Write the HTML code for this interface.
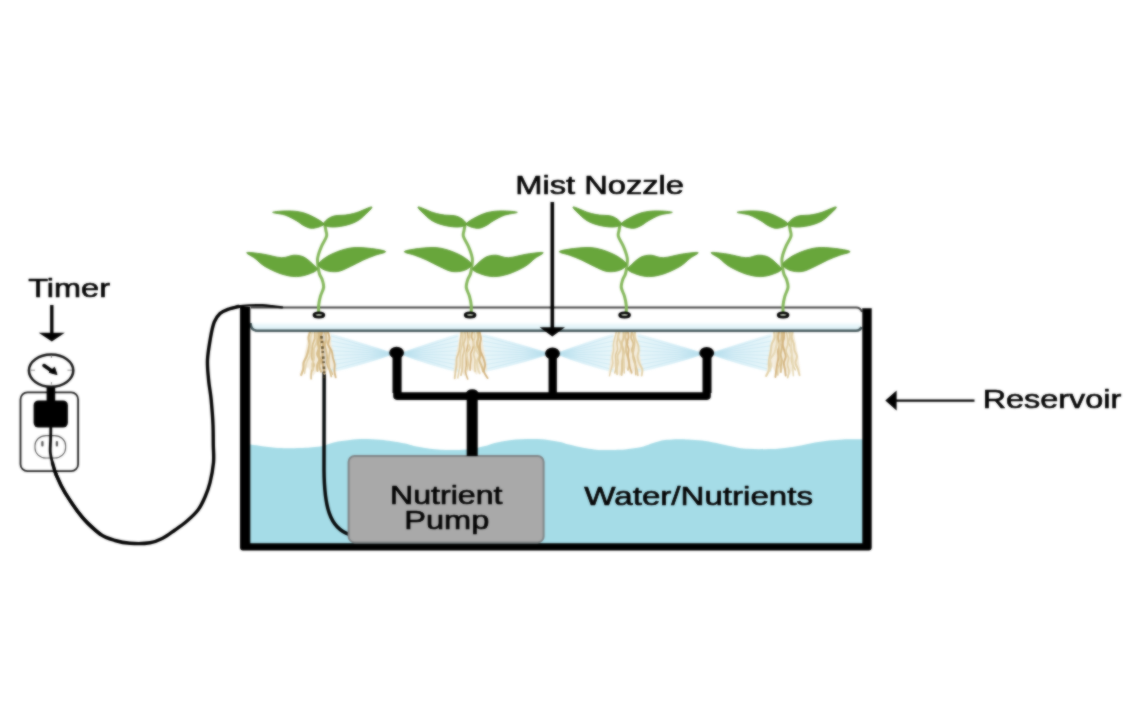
<!DOCTYPE html>
<html lang="en">
<head>
<meta charset="utf-8">
<title>Aeroponic System Diagram</title>
<style>
html,body{margin:0;padding:0;background:#fff;}
body{width:1140px;height:727px;overflow:hidden;position:relative;}
svg{display:block;position:absolute;left:0;top:0;}
text{font-family:"Liberation Sans",sans-serif;fill:#050505;stroke:#050505;stroke-width:0.65px;stroke-linejoin:round;}
</style>
</head>
<body>
<svg width="1140" height="727" viewBox="0 0 1140 727">
<rect x="0" y="0" width="1140" height="727" fill="#ffffff"/>
<defs>
<filter id="softA" x="0" y="0" width="1140" height="727" filterUnits="userSpaceOnUse" color-interpolation-filters="sRGB"><feGaussianBlur stdDeviation="1" result="b"/><feComposite in="SourceGraphic" in2="b" operator="arithmetic" k1="0" k2="0.3" k3="0.7" k4="0"/></filter>
<filter id="softT" x="0" y="0" width="1140" height="727" filterUnits="userSpaceOnUse" color-interpolation-filters="sRGB"><feGaussianBlur stdDeviation="1" result="b"/><feComposite in="SourceGraphic" in2="b" operator="arithmetic" k1="0" k2="0.35" k3="0.65" k4="0"/></filter>
</defs>
<g id="art" filter="url(#softA)">

<path d="M249.0,444.3 C251.2,444.6 257.7,445.7 262.0,446.3 C266.3,446.9 270.8,447.5 275.0,447.8 C279.2,448.1 282.8,448.2 287.0,448.3 C291.2,448.4 296.2,448.2 300.0,448.1 C303.8,448.0 306.7,447.8 310.0,447.5 C313.3,447.2 317.0,447.2 320.0,446.6 C323.0,446.1 325.0,445.0 328.0,444.2 C331.0,443.4 334.3,442.3 338.0,441.6 C341.7,440.9 345.7,440.3 350.0,439.9 C354.3,439.5 359.0,439.0 364.0,439.0 C369.0,439.0 375.3,439.4 380.0,439.8 C384.7,440.2 387.8,440.7 392.0,441.3 C396.2,441.9 401.3,442.8 405.0,443.6 C408.7,444.4 410.7,445.3 414.0,446.0 C417.3,446.7 421.5,447.4 425.0,448.0 C428.5,448.6 431.5,449.0 435.0,449.3 C438.5,449.6 442.5,449.8 446.0,449.9 C449.5,450.0 452.0,450.1 456.0,450.0 C460.0,449.9 465.3,449.8 470.0,449.2 C474.7,448.6 479.5,447.3 484.0,446.2 C488.5,445.1 492.8,443.4 497.0,442.4 C501.2,441.4 505.3,440.7 509.5,440.2 C513.7,439.7 517.8,439.5 522.0,439.3 C526.2,439.1 530.4,439.0 534.7,439.1 C539.0,439.2 543.8,439.5 548.0,440.0 C552.2,440.5 556.5,441.2 560.0,442.0 C563.5,442.8 565.2,443.6 569.0,444.6 C572.8,445.6 578.8,447.0 583.0,447.8 C587.2,448.6 590.5,449.0 594.0,449.4 C597.5,449.8 600.5,449.9 604.0,450.0 C607.5,450.1 611.5,450.1 615.0,450.0 C618.5,449.9 621.0,450.0 625.0,449.6 C629.0,449.2 635.3,448.3 639.0,447.6 C642.7,446.9 644.7,446.1 647.0,445.3 C649.3,444.5 650.8,443.7 653.0,443.0 C655.2,442.3 657.7,441.5 660.0,441.0 C662.3,440.5 664.0,440.1 667.0,439.8 C670.0,439.5 674.5,439.3 678.0,439.2 C681.5,439.1 684.0,439.2 688.0,439.4 C692.0,439.6 697.5,440.0 702.0,440.6 C706.5,441.2 711.3,442.1 715.0,442.8 C718.7,443.5 720.2,444.0 724.0,444.8 C727.8,445.6 734.0,447.0 738.0,447.7 C742.0,448.4 744.5,448.6 748.0,448.8 C751.5,449.1 755.3,449.2 759.0,449.2 C762.7,449.2 766.5,449.1 770.0,449.0 C773.5,448.9 776.7,448.7 780.0,448.4 C783.3,448.1 786.5,447.7 790.0,447.2 C793.5,446.7 796.8,446.2 801.0,445.4 C805.2,444.6 810.3,443.4 815.0,442.6 C819.7,441.8 824.3,440.9 829.0,440.4 C833.7,439.9 839.2,439.6 843.0,439.4 C846.8,439.2 848.7,439.2 852.0,439.2 C855.3,439.2 861.2,439.2 863.0,439.2 L863,544 L249,544 Z" fill="#a5dce7"/>
<defs><linearGradient id="mgr" x1="0" y1="0" x2="1" y2="0"><stop offset="0" stop-color="#bde3f0"/><stop offset="0.35" stop-color="#d9eff7"/><stop offset="1" stop-color="#e8f6fa"/></linearGradient><linearGradient id="mgl" x1="1" y1="0" x2="0" y2="0"><stop offset="0" stop-color="#bde3f0"/><stop offset="0.35" stop-color="#d9eff7"/><stop offset="1" stop-color="#e8f6fa"/></linearGradient></defs>
<path d="M390.7,352.3 Q363.8,343.2 331.0,333.6 L331.0,372.6 Q363.8,365.0 390.7,355.3 Z" fill="url(#mgl)"/><line x1="390.7" y1="353.8" x2="331.0" y2="336.0" stroke="#b9dfec" stroke-width="0.5"/><line x1="390.7" y1="353.8" x2="331.0" y2="340.9" stroke="#b9dfec" stroke-width="0.5"/><line x1="390.7" y1="353.8" x2="331.0" y2="345.7" stroke="#b9dfec" stroke-width="0.5"/><line x1="390.7" y1="353.8" x2="331.0" y2="350.6" stroke="#b9dfec" stroke-width="0.5"/><line x1="390.7" y1="353.8" x2="331.0" y2="355.4" stroke="#b9dfec" stroke-width="0.5"/><line x1="390.7" y1="353.8" x2="331.0" y2="360.3" stroke="#b9dfec" stroke-width="0.5"/><line x1="390.7" y1="353.8" x2="331.0" y2="365.1" stroke="#b9dfec" stroke-width="0.5"/><line x1="390.7" y1="353.8" x2="331.0" y2="370.0" stroke="#b9dfec" stroke-width="0.5"/>
<path d="M402.7,352.3 Q427.8,343.2 458.5,333.6 L458.5,372.6 Q427.8,365.0 402.7,355.3 Z" fill="url(#mgr)"/><line x1="402.7" y1="353.8" x2="458.5" y2="336.0" stroke="#b9dfec" stroke-width="0.5"/><line x1="402.7" y1="353.8" x2="458.5" y2="340.9" stroke="#b9dfec" stroke-width="0.5"/><line x1="402.7" y1="353.8" x2="458.5" y2="345.7" stroke="#b9dfec" stroke-width="0.5"/><line x1="402.7" y1="353.8" x2="458.5" y2="350.6" stroke="#b9dfec" stroke-width="0.5"/><line x1="402.7" y1="353.8" x2="458.5" y2="355.4" stroke="#b9dfec" stroke-width="0.5"/><line x1="402.7" y1="353.8" x2="458.5" y2="360.3" stroke="#b9dfec" stroke-width="0.5"/><line x1="402.7" y1="353.8" x2="458.5" y2="365.1" stroke="#b9dfec" stroke-width="0.5"/><line x1="402.7" y1="353.8" x2="458.5" y2="370.0" stroke="#b9dfec" stroke-width="0.5"/>
<path d="M546.5,352.3 Q517.7,343.2 482.5,333.6 L482.5,372.6 Q517.7,365.0 546.5,355.3 Z" fill="url(#mgl)"/><line x1="546.5" y1="353.8" x2="482.5" y2="336.0" stroke="#b9dfec" stroke-width="0.5"/><line x1="546.5" y1="353.8" x2="482.5" y2="340.9" stroke="#b9dfec" stroke-width="0.5"/><line x1="546.5" y1="353.8" x2="482.5" y2="345.7" stroke="#b9dfec" stroke-width="0.5"/><line x1="546.5" y1="353.8" x2="482.5" y2="350.6" stroke="#b9dfec" stroke-width="0.5"/><line x1="546.5" y1="353.8" x2="482.5" y2="355.4" stroke="#b9dfec" stroke-width="0.5"/><line x1="546.5" y1="353.8" x2="482.5" y2="360.3" stroke="#b9dfec" stroke-width="0.5"/><line x1="546.5" y1="353.8" x2="482.5" y2="365.1" stroke="#b9dfec" stroke-width="0.5"/><line x1="546.5" y1="353.8" x2="482.5" y2="370.0" stroke="#b9dfec" stroke-width="0.5"/>
<path d="M558.5,352.3 Q583.2,343.2 613.5,333.6 L613.5,372.6 Q583.2,365.0 558.5,355.3 Z" fill="url(#mgr)"/><line x1="558.5" y1="353.8" x2="613.5" y2="336.0" stroke="#b9dfec" stroke-width="0.5"/><line x1="558.5" y1="353.8" x2="613.5" y2="340.9" stroke="#b9dfec" stroke-width="0.5"/><line x1="558.5" y1="353.8" x2="613.5" y2="345.7" stroke="#b9dfec" stroke-width="0.5"/><line x1="558.5" y1="353.8" x2="613.5" y2="350.6" stroke="#b9dfec" stroke-width="0.5"/><line x1="558.5" y1="353.8" x2="613.5" y2="355.4" stroke="#b9dfec" stroke-width="0.5"/><line x1="558.5" y1="353.8" x2="613.5" y2="360.3" stroke="#b9dfec" stroke-width="0.5"/><line x1="558.5" y1="353.8" x2="613.5" y2="365.1" stroke="#b9dfec" stroke-width="0.5"/><line x1="558.5" y1="353.8" x2="613.5" y2="370.0" stroke="#b9dfec" stroke-width="0.5"/>
<path d="M700.7,352.3 Q672.3,343.2 637.5,333.6 L637.5,372.6 Q672.3,365.0 700.7,355.3 Z" fill="url(#mgl)"/><line x1="700.7" y1="353.8" x2="637.5" y2="336.0" stroke="#b9dfec" stroke-width="0.5"/><line x1="700.7" y1="353.8" x2="637.5" y2="340.9" stroke="#b9dfec" stroke-width="0.5"/><line x1="700.7" y1="353.8" x2="637.5" y2="345.7" stroke="#b9dfec" stroke-width="0.5"/><line x1="700.7" y1="353.8" x2="637.5" y2="350.6" stroke="#b9dfec" stroke-width="0.5"/><line x1="700.7" y1="353.8" x2="637.5" y2="355.4" stroke="#b9dfec" stroke-width="0.5"/><line x1="700.7" y1="353.8" x2="637.5" y2="360.3" stroke="#b9dfec" stroke-width="0.5"/><line x1="700.7" y1="353.8" x2="637.5" y2="365.1" stroke="#b9dfec" stroke-width="0.5"/><line x1="700.7" y1="353.8" x2="637.5" y2="370.0" stroke="#b9dfec" stroke-width="0.5"/>
<path d="M712.7,352.3 Q739.2,343.2 771.5,333.6 L771.5,372.6 Q739.2,365.0 712.7,355.3 Z" fill="url(#mgr)"/><line x1="712.7" y1="353.8" x2="771.5" y2="336.0" stroke="#b9dfec" stroke-width="0.5"/><line x1="712.7" y1="353.8" x2="771.5" y2="340.9" stroke="#b9dfec" stroke-width="0.5"/><line x1="712.7" y1="353.8" x2="771.5" y2="345.7" stroke="#b9dfec" stroke-width="0.5"/><line x1="712.7" y1="353.8" x2="771.5" y2="350.6" stroke="#b9dfec" stroke-width="0.5"/><line x1="712.7" y1="353.8" x2="771.5" y2="355.4" stroke="#b9dfec" stroke-width="0.5"/><line x1="712.7" y1="353.8" x2="771.5" y2="360.3" stroke="#b9dfec" stroke-width="0.5"/><line x1="712.7" y1="353.8" x2="771.5" y2="365.1" stroke="#b9dfec" stroke-width="0.5"/><line x1="712.7" y1="353.8" x2="771.5" y2="370.0" stroke="#b9dfec" stroke-width="0.5"/>
<path d="M324.3,333 C324.1,380 323.8,430 324,470 C324.3,505 329,528 349.5,534.5" fill="none" stroke="#05090a" stroke-width="3.5" stroke-linecap="round"/>
<g fill="none" stroke-linecap="round"><path d="M309.5,331 L329.0,331 L333.0,352 L336.0,372 L330.0,366 L325.0,375 L319.0,368 L313.0,376 L308.0,367 L302.0,373 L305.0,352 Z" fill="#f4ecdb" fill-opacity="0.9" stroke="none"/><path d="M310.1,331.5 C309.9,332.5 308.6,335.6 308.5,337.7 C308.4,339.8 309.5,341.9 309.5,343.9 C309.5,346.0 308.9,348.1 308.4,350.1 C307.9,352.2 307.4,354.3 306.6,356.4 C305.8,358.4 304.2,360.5 303.6,362.6 C303.1,364.6 303.7,366.7 303.3,368.8 C302.9,370.8 301.5,374.0 301.2,375.0" stroke="#d6bc88" stroke-width="2.2"/><path d="M312.5,331.5 C312.3,332.5 311.1,335.5 310.8,337.5 C310.5,339.5 310.8,341.5 310.6,343.5 C310.5,345.5 310.0,347.5 309.9,349.5 C309.8,351.5 310.5,353.5 310.1,355.5 C309.6,357.5 307.8,359.5 307.1,361.5 C306.3,363.5 305.9,365.5 305.5,367.5 C305.1,369.5 304.7,372.5 304.6,373.5" stroke="#e6d8b4" stroke-width="1.6"/><path d="M314.6,331.5 C314.7,332.6 315.1,336.0 314.8,338.2 C314.4,340.5 313.0,342.7 312.6,345.0 C312.1,347.2 312.1,349.5 312.0,351.7 C311.9,354.0 311.6,356.2 311.9,358.5 C312.3,360.7 314.1,363.0 314.0,365.2 C313.9,367.5 311.9,369.7 311.4,372.0 C310.9,374.2 311.1,377.6 311.1,378.7" stroke="#d6bc88" stroke-width="1.7"/><path d="M316.3,331.5 C316.3,332.4 316.2,335.2 316.3,337.0 C316.4,338.9 317.1,340.7 316.7,342.5 C316.4,344.4 314.6,346.2 314.1,348.1 C313.6,349.9 313.9,351.7 313.8,353.6 C313.8,355.4 314.2,357.2 313.9,359.1 C313.6,360.9 312.3,362.8 312.2,364.6 C312.0,366.4 312.9,369.2 313.1,370.1" stroke="#e2d0a6" stroke-width="2.0"/><path d="M318.3,331.5 C318.3,332.4 318.6,335.3 318.5,337.1 C318.5,339.0 317.9,340.9 317.9,342.8 C318.0,344.6 318.8,346.5 318.7,348.4 C318.6,350.3 317.1,352.1 317.2,354.0 C317.3,355.9 319.3,357.8 319.3,359.7 C319.3,361.5 317.5,363.4 317.2,365.3 C316.9,367.2 317.4,370.0 317.5,370.9" stroke="#d6bc88" stroke-width="2.2"/><path d="M320.1,331.5 C320.0,332.5 319.4,335.3 319.5,337.3 C319.5,339.2 320.6,341.1 320.6,343.0 C320.6,344.9 319.5,346.9 319.2,348.8 C319.0,350.7 319.0,352.6 319.1,354.5 C319.3,356.5 320.2,358.4 320.3,360.3 C320.3,362.2 319.3,364.1 319.4,366.1 C319.5,368.0 320.8,370.9 321.0,371.8" stroke="#d6bc88" stroke-width="2.0"/><path d="M322.3,331.5 C322.1,332.5 320.7,335.5 320.9,337.5 C321.0,339.5 323.1,341.5 323.3,343.5 C323.6,345.5 322.5,347.5 322.3,349.6 C322.2,351.6 322.6,353.6 322.6,355.6 C322.5,357.6 321.9,359.6 322.1,361.6 C322.3,363.6 323.2,365.6 323.6,367.6 C323.9,369.6 324.2,372.6 324.3,373.6" stroke="#d2b27c" stroke-width="2.1"/><path d="M324.4,331.5 C324.7,332.6 326.3,335.8 326.4,337.9 C326.5,340.1 324.8,342.2 324.8,344.4 C324.7,346.5 325.8,348.6 326.2,350.8 C326.6,352.9 327.0,355.1 327.1,357.2 C327.2,359.4 326.5,361.5 327.0,363.6 C327.4,365.8 328.8,367.9 329.6,370.1 C330.3,372.2 331.0,375.4 331.3,376.5" stroke="#d6bc88" stroke-width="1.8"/><path d="M326.6,331.5 C326.5,332.5 325.8,335.6 326.0,337.6 C326.2,339.6 326.9,341.7 327.6,343.7 C328.2,345.7 329.8,347.7 330.0,349.8 C330.3,351.8 329.3,353.8 329.1,355.9 C328.9,357.9 328.7,359.9 328.8,362.0 C329.0,364.0 329.1,366.0 329.7,368.1 C330.3,370.1 332.0,373.1 332.5,374.2" stroke="#dcc698" stroke-width="1.7"/><path d="M327.8,331.5 C328.1,332.6 329.4,335.9 329.5,338.1 C329.5,340.2 327.9,342.4 328.3,344.6 C328.7,346.8 331.1,349.0 331.8,351.2 C332.6,353.4 332.4,355.6 332.9,357.7 C333.3,359.9 334.5,362.1 334.7,364.3 C335.0,366.5 334.2,368.7 334.4,370.9 C334.5,373.0 335.4,376.3 335.7,377.4" stroke="#d2b27c" stroke-width="1.8"/></g>
<g fill="none" stroke-linecap="round"><path d="M461.0,331 L480.5,331 L484.5,352 L487.5,372 L481.5,366 L476.5,375 L470.5,368 L464.5,376 L459.5,367 L453.5,373 L456.5,352 Z" fill="#f4ecdb" fill-opacity="0.9" stroke="none"/><path d="M461.4,331.5 C461.3,332.6 460.9,336.0 460.7,338.2 C460.4,340.4 460.2,342.6 459.9,344.9 C459.7,347.1 459.7,349.3 459.1,351.5 C458.6,353.8 457.1,356.0 456.7,358.2 C456.3,360.5 456.7,362.7 456.5,364.9 C456.3,367.1 455.8,369.4 455.5,371.6 C455.2,373.8 454.8,377.2 454.7,378.3" stroke="#dcc698" stroke-width="1.8"/><path d="M462.8,331.5 C462.8,332.6 463.0,335.9 462.8,338.1 C462.7,340.3 462.4,342.6 462.1,344.8 C461.7,347.0 461.0,349.2 460.7,351.4 C460.4,353.6 460.2,355.8 460.1,358.0 C460.0,360.3 460.3,362.5 460.1,364.7 C459.9,366.9 459.3,369.1 458.9,371.3 C458.5,373.5 458.0,376.9 457.8,378.0" stroke="#e2d0a6" stroke-width="1.5"/><path d="M464.7,331.5 C464.8,332.5 465.6,335.7 465.4,337.7 C465.2,339.8 463.9,341.9 463.7,344.0 C463.5,346.1 464.4,348.1 464.3,350.2 C464.1,352.3 463.0,354.4 462.7,356.5 C462.4,358.6 462.5,360.6 462.5,362.7 C462.4,364.8 462.5,366.9 462.3,369.0 C462.1,371.0 461.2,374.2 461.0,375.2" stroke="#dcc698" stroke-width="1.8"/><path d="M467.2,331.5 C467.4,332.6 468.2,336.0 468.3,338.3 C468.4,340.5 468.1,342.8 467.8,345.1 C467.5,347.3 466.8,349.6 466.5,351.8 C466.2,354.1 466.2,356.4 466.2,358.6 C466.1,360.9 466.4,363.1 466.3,365.4 C466.2,367.7 465.3,369.9 465.5,372.2 C465.8,374.4 467.3,377.8 467.7,379.0" stroke="#d2b27c" stroke-width="1.6"/><path d="M469.3,331.5 C469.4,332.4 469.9,335.1 469.7,337.0 C469.5,338.8 467.9,340.6 467.9,342.4 C467.9,344.2 470.1,346.0 469.9,347.9 C469.7,349.7 467.1,351.5 466.7,353.3 C466.3,355.1 467.1,356.9 467.3,358.8 C467.6,360.6 468.1,362.4 468.0,364.2 C467.9,366.0 466.8,368.8 466.6,369.7" stroke="#e2d0a6" stroke-width="1.9"/><path d="M472.3,331.5 C472.2,332.4 471.5,335.2 471.7,337.0 C471.9,338.9 473.5,340.7 473.6,342.6 C473.8,344.4 473.4,346.3 472.9,348.1 C472.4,350.0 471.0,351.8 470.7,353.7 C470.4,355.5 471.0,357.4 471.0,359.2 C470.9,361.1 470.5,362.9 470.3,364.8 C470.2,366.6 470.1,369.4 470.1,370.3" stroke="#d2b27c" stroke-width="1.6"/><path d="M474.0,331.5 C474.1,332.4 475.0,335.3 474.9,337.2 C474.7,339.1 473.1,341.0 473.2,342.9 C473.2,344.8 475.0,346.7 475.1,348.6 C475.2,350.5 473.7,352.4 473.7,354.2 C473.7,356.1 474.8,358.0 475.0,359.9 C475.2,361.8 474.6,363.7 474.7,365.6 C474.7,367.5 475.1,370.4 475.2,371.3" stroke="#e2d0a6" stroke-width="1.7"/><path d="M476.7,331.5 C476.9,332.5 477.8,335.5 478.0,337.5 C478.1,339.5 477.8,341.4 477.5,343.4 C477.2,345.4 475.8,347.4 476.1,349.4 C476.4,351.4 479.1,353.4 479.3,355.4 C479.4,357.3 477.4,359.3 477.1,361.3 C476.8,363.3 477.2,365.3 477.6,367.3 C478.1,369.3 479.3,372.3 479.7,373.2" stroke="#e6d8b4" stroke-width="2.1"/><path d="M477.7,331.5 C477.8,332.5 478.6,335.3 478.5,337.2 C478.4,339.1 477.0,341.0 477.0,342.9 C477.0,344.8 478.2,346.7 478.7,348.6 C479.3,350.5 480.1,352.4 480.2,354.3 C480.3,356.3 479.1,358.2 479.3,360.1 C479.5,362.0 480.9,363.9 481.5,365.8 C482.1,367.7 482.8,370.5 483.1,371.5" stroke="#d6bc88" stroke-width="2.1"/><path d="M479.4,331.5 C479.6,332.6 480.8,335.9 480.9,338.2 C481.0,340.4 479.9,342.6 479.9,344.8 C479.8,347.0 480.0,349.3 480.6,351.5 C481.2,353.7 482.6,355.9 483.4,358.1 C484.1,360.4 485.0,362.6 485.1,364.8 C485.2,367.0 483.5,369.2 483.9,371.5 C484.3,373.7 487.0,377.0 487.6,378.1" stroke="#d2b27c" stroke-width="1.9"/></g>
<g fill="none" stroke-linecap="round"><path d="M616.0,331 L635.5,331 L639.5,352 L642.5,372 L636.5,366 L631.5,375 L625.5,368 L619.5,376 L614.5,367 L608.5,373 L611.5,352 Z" fill="#f4ecdb" fill-opacity="0.9" stroke="none"/><path d="M616.4,331.5 C616.2,332.6 615.2,335.7 614.7,337.8 C614.2,339.9 613.6,342.1 613.4,344.2 C613.3,346.3 613.8,348.4 613.6,350.5 C613.4,352.6 612.3,354.7 612.2,356.8 C612.0,358.9 612.9,361.1 612.7,363.2 C612.5,365.3 611.6,367.4 611.1,369.5 C610.5,371.6 609.7,374.8 609.5,375.8" stroke="#e2d0a6" stroke-width="1.5"/><path d="M618.8,331.5 C618.7,332.5 618.2,335.5 617.9,337.4 C617.6,339.4 617.0,341.4 617.0,343.4 C616.9,345.3 617.7,347.3 617.5,349.3 C617.3,351.3 615.9,353.2 615.6,355.2 C615.3,357.2 615.8,359.2 615.9,361.1 C615.9,363.1 616.2,365.1 616.0,367.1 C615.9,369.0 615.0,372.0 614.8,373.0" stroke="#dcc698" stroke-width="1.5"/><path d="M619.7,331.5 C619.5,332.5 618.1,335.6 618.3,337.6 C618.5,339.7 620.5,341.7 620.9,343.7 C621.3,345.8 621.1,347.8 620.5,349.9 C619.9,351.9 617.9,353.9 617.5,356.0 C617.1,358.0 618.3,360.1 618.2,362.1 C618.1,364.1 617.1,366.2 616.9,368.2 C616.7,370.3 617.1,373.3 617.1,374.3" stroke="#e2d0a6" stroke-width="1.9"/><path d="M623.6,331.5 C623.6,332.5 623.8,335.6 623.5,337.7 C623.2,339.7 621.9,341.8 621.8,343.9 C621.8,345.9 623.0,348.0 623.2,350.0 C623.4,352.1 623.3,354.2 623.1,356.2 C622.9,358.3 622.2,360.3 622.1,362.4 C621.9,364.5 622.2,366.5 622.1,368.6 C622.0,370.7 621.6,373.7 621.5,374.8" stroke="#dcc698" stroke-width="2.2"/><path d="M625.7,331.5 C625.6,332.5 625.1,335.4 625.1,337.4 C625.2,339.4 625.9,341.4 626.0,343.3 C626.1,345.3 626.1,347.3 625.8,349.2 C625.4,351.2 624.1,353.2 623.8,355.1 C623.5,357.1 623.9,359.1 623.9,361.1 C624.0,363.0 624.0,365.0 624.1,367.0 C624.1,368.9 624.3,371.9 624.3,372.9" stroke="#e2d0a6" stroke-width="1.6"/><path d="M626.5,331.5 C626.3,332.4 625.0,335.1 625.2,337.0 C625.4,338.8 627.4,340.6 627.6,342.4 C627.7,344.3 626.0,346.1 625.8,347.9 C625.7,349.7 626.3,351.6 626.7,353.4 C627.1,355.2 627.9,357.0 628.4,358.9 C628.8,360.7 629.3,362.5 629.2,364.3 C629.1,366.2 628.1,368.9 627.9,369.8" stroke="#dcc698" stroke-width="2.0"/><path d="M627.9,331.5 C628.0,332.5 628.7,335.4 628.5,337.4 C628.4,339.4 626.9,341.3 626.9,343.3 C626.9,345.3 628.4,347.2 628.6,349.2 C628.8,351.2 628.1,353.1 628.1,355.1 C628.1,357.0 628.5,359.0 628.7,361.0 C629.0,362.9 629.3,364.9 629.8,366.9 C630.3,368.8 631.4,371.8 631.7,372.8" stroke="#d2b27c" stroke-width="1.7"/><path d="M631.9,331.5 C631.7,332.5 630.8,335.6 631.1,337.7 C631.3,339.7 633.2,341.8 633.3,343.8 C633.4,345.9 631.9,348.0 631.9,350.0 C632.0,352.1 633.1,354.1 633.6,356.2 C634.2,358.3 634.9,360.3 635.2,362.4 C635.5,364.4 635.5,366.5 635.6,368.5 C635.7,370.6 635.7,373.7 635.8,374.7" stroke="#d6bc88" stroke-width="1.7"/><path d="M632.0,331.5 C632.3,332.5 633.5,335.7 633.9,337.8 C634.3,339.9 634.6,341.9 634.5,344.0 C634.5,346.1 633.9,348.2 633.6,350.3 C633.3,352.4 632.7,354.5 632.8,356.6 C633.0,358.7 633.9,360.8 634.6,362.8 C635.3,364.9 636.3,367.0 636.9,369.1 C637.5,371.2 637.8,374.3 637.9,375.4" stroke="#dcc698" stroke-width="1.7"/><path d="M635.1,331.5 C635.0,332.5 634.4,335.7 634.9,337.8 C635.4,339.9 637.3,342.0 637.9,344.1 C638.6,346.2 638.8,348.2 638.8,350.3 C638.7,352.4 637.5,354.5 637.5,356.6 C637.6,358.7 638.3,360.8 639.1,362.9 C639.9,365.0 641.8,367.1 642.3,369.2 C642.7,371.3 641.8,374.4 641.7,375.5" stroke="#e2d0a6" stroke-width="1.9"/></g>
<g fill="none" stroke-linecap="round"><path d="M774.0,331 L793.5,331 L797.5,352 L800.5,372 L794.5,366 L789.5,375 L783.5,368 L777.5,376 L772.5,367 L766.5,373 L769.5,352 Z" fill="#f4ecdb" fill-opacity="0.9" stroke="none"/><path d="M774.0,331.5 C774.1,332.6 775.0,335.7 774.6,337.9 C774.2,340.0 772.3,342.1 771.7,344.2 C771.1,346.3 771.2,348.5 770.9,350.6 C770.6,352.7 770.0,354.8 769.6,356.9 C769.3,359.0 768.8,361.2 768.8,363.3 C768.7,365.4 769.7,367.5 769.2,369.6 C768.8,371.8 766.6,374.9 766.1,376.0" stroke="#e2d0a6" stroke-width="2.1"/><path d="M777.0,331.5 C777.0,332.4 777.0,335.2 776.9,337.1 C776.9,339.0 777.1,340.8 776.9,342.7 C776.7,344.6 776.2,346.4 775.7,348.3 C775.2,350.2 774.9,352.0 773.9,353.9 C773.0,355.8 770.6,357.6 770.1,359.5 C769.6,361.4 771.0,363.2 770.9,365.1 C770.8,367.0 769.9,369.8 769.6,370.7" stroke="#e6d8b4" stroke-width="2.1"/><path d="M779.1,331.5 C778.9,332.6 778.0,335.8 778.1,338.0 C778.1,340.2 779.6,342.3 779.6,344.5 C779.6,346.7 778.2,348.8 778.0,351.0 C777.8,353.2 778.5,355.4 778.3,357.5 C778.2,359.7 777.6,361.9 777.2,364.0 C776.9,366.2 776.5,368.4 776.2,370.5 C775.9,372.7 775.6,376.0 775.4,377.0" stroke="#d2b27c" stroke-width="1.9"/><path d="M781.0,331.5 C781.0,332.5 781.4,335.7 781.1,337.7 C780.9,339.8 779.7,341.9 779.5,344.0 C779.2,346.0 779.6,348.1 779.6,350.2 C779.6,352.3 779.4,354.4 779.5,356.4 C779.6,358.5 780.4,360.6 780.1,362.7 C779.8,364.8 778.1,366.8 777.7,368.9 C777.3,371.0 777.9,374.1 777.9,375.1" stroke="#e2d0a6" stroke-width="1.6"/><path d="M782.1,331.5 C782.1,332.5 781.9,335.3 782.0,337.3 C782.0,339.2 782.4,341.1 782.4,343.0 C782.3,345.0 781.9,346.9 781.7,348.8 C781.4,350.7 780.7,352.7 780.7,354.6 C780.8,356.5 781.8,358.4 781.8,360.4 C781.9,362.3 781.1,364.2 780.9,366.1 C780.8,368.1 780.9,370.9 780.9,371.9" stroke="#d6bc88" stroke-width="2.0"/><path d="M784.0,331.5 C784.0,332.5 784.2,335.7 784.0,337.8 C783.8,339.9 782.6,342.0 782.7,344.1 C782.7,346.2 783.6,348.3 784.2,350.3 C784.7,352.4 785.8,354.5 785.7,356.6 C785.7,358.7 784.0,360.8 783.9,362.9 C783.7,365.0 784.6,367.1 784.9,369.2 C785.2,371.3 785.6,374.4 785.7,375.5" stroke="#d2b27c" stroke-width="1.9"/><path d="M786.2,331.5 C786.4,332.6 787.4,335.9 787.6,338.1 C787.9,340.3 787.9,342.5 787.6,344.7 C787.4,346.9 785.9,349.1 786.1,351.3 C786.2,353.5 788.3,355.7 788.6,357.9 C788.8,360.1 787.4,362.3 787.5,364.5 C787.6,366.7 789.0,368.9 789.0,371.1 C789.1,373.3 787.9,376.6 787.7,377.7" stroke="#e2d0a6" stroke-width="1.7"/><path d="M788.9,331.5 C789.1,332.4 790.0,335.2 790.0,337.0 C789.9,338.8 788.3,340.6 788.5,342.5 C788.7,344.3 790.4,346.1 791.0,348.0 C791.5,349.8 791.7,351.6 791.8,353.4 C791.8,355.3 791.3,357.1 791.4,358.9 C791.5,360.8 791.8,362.6 792.4,364.4 C793.1,366.2 794.8,369.0 795.3,369.9" stroke="#e2d0a6" stroke-width="1.6"/><path d="M790.4,331.5 C790.5,332.6 790.8,335.7 790.9,337.8 C791.1,339.9 791.5,342.0 791.4,344.1 C791.4,346.2 790.3,348.3 790.4,350.4 C790.6,352.5 792.0,354.6 792.4,356.7 C792.8,358.8 792.8,360.9 792.9,363.0 C792.9,365.1 792.8,367.2 792.9,369.3 C792.9,371.4 793.3,374.6 793.4,375.6" stroke="#e6d8b4" stroke-width="1.6"/><path d="M792.6,331.5 C792.5,332.5 791.6,335.7 791.8,337.7 C792.0,339.8 793.4,341.9 793.9,344.0 C794.3,346.1 794.0,348.1 794.5,350.2 C795.0,352.3 796.9,354.4 797.0,356.5 C797.2,358.5 795.4,360.6 795.5,362.7 C795.6,364.8 797.1,366.9 797.8,368.9 C798.5,371.0 799.3,374.1 799.6,375.2" stroke="#e2d0a6" stroke-width="1.9"/></g>
<path d="M321.5,336 C322.5,350 324,362 324.3,378" fill="none" stroke="#3b2f12" stroke-width="2.6" stroke-dasharray="2.6 2.4 1.8 3.4" stroke-opacity="0.8"/>
<defs><linearGradient id="lidg" x1="0" y1="0" x2="0" y2="1"><stop offset="0" stop-color="#ffffff"/><stop offset="0.62" stop-color="#ffffff"/><stop offset="0.8" stop-color="#e6f5f9"/><stop offset="1" stop-color="#daeff5"/></linearGradient></defs>
<rect x="250" y="307.3" width="611" height="23.4" rx="7" ry="7" fill="url(#lidg)" stroke="none"/>
<path d="M251,307.5 L856,307.5 Q860.5,307.5 862,312" fill="none" stroke="#444444" stroke-width="2"/>
<path d="M250.5,323 Q251,330.7 257,330.7 L856,330.7 Q860,330.7 861.5,327" fill="none" stroke="#44575b" stroke-width="2.6"/>
<path d="M240,307 L250.3,307 L250.3,543.3 L862.3,543.3 L862.3,308.3 L871.7,308.3 L871.7,547.4 Q871.7,550.4 868.7,550.4 L243,550.4 Q240,550.4 240,547.4 Z" fill="#000"/>
<rect x="348.6" y="456" width="195" height="86.4" rx="6" ry="6" fill="#a9a9a9" stroke="#808486" stroke-width="2"/>
<path d="M397,353 L397,396.1 L707,396.1 L707,353" fill="none" stroke="#000" stroke-width="7.6" stroke-linejoin="round"/>
<rect x="392.5" y="353" width="9.1" height="40" fill="#000"/>
<rect x="702.5" y="353" width="9.0" height="40" fill="#000"/>
<line x1="552.7" y1="354" x2="552.7" y2="396" stroke="#000" stroke-width="8.3"/>
<rect x="466.7" y="392" width="11.0" height="64" fill="#000"/>
<ellipse cx="472.3" cy="393.5" rx="6.3" ry="4.3" fill="#000"/>
<ellipse cx="396.6" cy="352.7" rx="7.4" ry="6.0" fill="#000"/>
<ellipse cx="552.5" cy="353.6" rx="7.4" ry="6.0" fill="#000"/>
<ellipse cx="706.7" cy="353.1" rx="7.4" ry="6.0" fill="#000"/>
<g transform="translate(0,0)"><path d="M324.5,224.0 C324.7,225.0 325.5,227.9 325.8,230.0 C326.1,232.1 327.2,233.7 326.5,236.4 C325.8,239.1 323.0,242.9 321.5,246.4 C320.0,249.9 318.3,254.4 317.7,257.7 C317.1,261.0 317.7,263.3 318.0,266.0 C318.3,268.7 318.8,271.7 319.5,274.0 C320.2,276.3 321.6,277.8 322.3,280.0 C323.0,282.2 323.9,284.8 323.6,287.5 C323.3,290.2 321.2,293.4 320.4,296.3 C319.6,299.2 319.0,302.2 318.7,305.0 C318.4,307.8 318.7,311.7 318.7,313.0" fill="none" stroke="#82b658" stroke-width="3.0" stroke-linecap="round"/><path d="M272.6,212.3 C273.0,211.6 282.6,210.9 287.6,210.9 C292.6,210.9 297.9,211.3 302.7,212.6 C307.5,213.9 313.0,216.6 316.5,218.6 C320.0,220.6 324.1,222.9 323.5,224.5 C322.9,226.1 315.9,228.1 312.7,228.3 C309.4,228.5 306.7,227.0 304.0,225.7 C301.3,224.4 299.5,222.5 296.4,220.7 C293.2,218.9 289.1,216.5 285.1,215.1 C281.1,213.7 272.2,213.0 272.6,212.3Z" fill="#68a63b" stroke="#5f9a36" stroke-width="0.9" stroke-linejoin="round"/><path d="M371.7,206.9 C370.2,206.6 361.0,211.2 356.6,212.6 C352.2,214.0 348.9,214.6 345.3,215.1 C341.8,215.6 338.2,215.1 335.3,215.7 C332.4,216.3 329.8,217.4 327.8,218.9 C325.8,220.4 322.9,223.2 323.5,224.5 C324.1,225.8 328.1,226.8 331.5,227.0 C334.9,227.2 339.9,226.6 344.1,225.7 C348.3,224.8 353.1,223.3 356.6,221.4 C360.2,219.5 362.9,216.9 365.4,214.5 C367.9,212.1 373.2,207.2 371.7,206.9Z" fill="#68a63b" stroke="#5f9a36" stroke-width="0.9" stroke-linejoin="round"/><path d="M246.8,252.6 C248.1,251.9 256.7,253.2 262.5,254.0 C268.3,254.8 276.2,257.5 281.4,257.7 C286.6,257.9 290.1,255.3 293.9,255.2 C297.6,255.1 300.8,255.6 303.9,257.1 C307.0,258.6 310.5,261.9 312.7,264.0 C314.9,266.1 317.6,267.8 317.0,269.5 C316.4,271.2 312.4,272.8 309.0,274.0 C305.6,275.2 301.0,276.6 296.4,276.6 C291.8,276.6 286.6,275.7 281.4,274.0 C276.2,272.3 269.4,269.1 265.0,266.5 C260.6,263.9 258.0,260.7 255.0,258.4 C252.0,256.1 245.6,253.3 246.8,252.6Z" fill="#68a63b" stroke="#5f9a36" stroke-width="0.9" stroke-linejoin="round"/><path d="M385.5,251.5 C384.5,250.3 374.6,248.9 369.2,248.3 C363.8,247.7 358.1,247.2 352.9,247.7 C347.7,248.2 342.4,249.8 337.8,251.5 C333.2,253.2 328.5,255.5 325.3,257.7 C322.1,259.9 318.5,262.4 318.5,264.5 C318.5,266.6 322.1,269.1 325.3,270.3 C328.5,271.5 333.6,272.1 337.8,271.5 C342.0,270.9 346.2,268.4 350.4,266.5 C354.6,264.6 358.7,262.1 362.9,260.2 C367.1,258.3 371.6,256.6 375.4,255.2 C379.2,253.8 386.5,252.7 385.5,251.5Z" fill="#68a63b" stroke="#5f9a36" stroke-width="0.9" stroke-linejoin="round"/></g>
<g transform="translate(789.9,0) scale(-1,1)"><path d="M324.5,224.0 C324.7,225.0 325.5,227.9 325.8,230.0 C326.1,232.1 327.2,233.7 326.5,236.4 C325.8,239.1 323.0,242.9 321.5,246.4 C320.0,249.9 318.3,254.4 317.7,257.7 C317.1,261.0 317.7,263.3 318.0,266.0 C318.3,268.7 318.8,271.7 319.5,274.0 C320.2,276.3 321.6,277.8 322.3,280.0 C323.0,282.2 323.9,284.8 323.6,287.5 C323.3,290.2 321.2,293.4 320.4,296.3 C319.6,299.2 319.0,302.2 318.7,305.0 C318.4,307.8 318.7,311.7 318.7,313.0" fill="none" stroke="#82b658" stroke-width="3.0" stroke-linecap="round"/><path d="M272.6,212.3 C273.0,211.6 282.6,210.9 287.6,210.9 C292.6,210.9 297.9,211.3 302.7,212.6 C307.5,213.9 313.0,216.6 316.5,218.6 C320.0,220.6 324.1,222.9 323.5,224.5 C322.9,226.1 315.9,228.1 312.7,228.3 C309.4,228.5 306.7,227.0 304.0,225.7 C301.3,224.4 299.5,222.5 296.4,220.7 C293.2,218.9 289.1,216.5 285.1,215.1 C281.1,213.7 272.2,213.0 272.6,212.3Z" fill="#68a63b" stroke="#5f9a36" stroke-width="0.9" stroke-linejoin="round"/><path d="M371.7,206.9 C370.2,206.6 361.0,211.2 356.6,212.6 C352.2,214.0 348.9,214.6 345.3,215.1 C341.8,215.6 338.2,215.1 335.3,215.7 C332.4,216.3 329.8,217.4 327.8,218.9 C325.8,220.4 322.9,223.2 323.5,224.5 C324.1,225.8 328.1,226.8 331.5,227.0 C334.9,227.2 339.9,226.6 344.1,225.7 C348.3,224.8 353.1,223.3 356.6,221.4 C360.2,219.5 362.9,216.9 365.4,214.5 C367.9,212.1 373.2,207.2 371.7,206.9Z" fill="#68a63b" stroke="#5f9a36" stroke-width="0.9" stroke-linejoin="round"/><path d="M246.8,252.6 C248.1,251.9 256.7,253.2 262.5,254.0 C268.3,254.8 276.2,257.5 281.4,257.7 C286.6,257.9 290.1,255.3 293.9,255.2 C297.6,255.1 300.8,255.6 303.9,257.1 C307.0,258.6 310.5,261.9 312.7,264.0 C314.9,266.1 317.6,267.8 317.0,269.5 C316.4,271.2 312.4,272.8 309.0,274.0 C305.6,275.2 301.0,276.6 296.4,276.6 C291.8,276.6 286.6,275.7 281.4,274.0 C276.2,272.3 269.4,269.1 265.0,266.5 C260.6,263.9 258.0,260.7 255.0,258.4 C252.0,256.1 245.6,253.3 246.8,252.6Z" fill="#68a63b" stroke="#5f9a36" stroke-width="0.9" stroke-linejoin="round"/><path d="M385.5,251.5 C384.5,250.3 374.6,248.9 369.2,248.3 C363.8,247.7 358.1,247.2 352.9,247.7 C347.7,248.2 342.4,249.8 337.8,251.5 C333.2,253.2 328.5,255.5 325.3,257.7 C322.1,259.9 318.5,262.4 318.5,264.5 C318.5,266.6 322.1,269.1 325.3,270.3 C328.5,271.5 333.6,272.1 337.8,271.5 C342.0,270.9 346.2,268.4 350.4,266.5 C354.6,264.6 358.7,262.1 362.9,260.2 C367.1,258.3 371.6,256.6 375.4,255.2 C379.2,253.8 386.5,252.7 385.5,251.5Z" fill="#68a63b" stroke="#5f9a36" stroke-width="0.9" stroke-linejoin="round"/></g>
<g transform="translate(944.9,0) scale(-1,1)"><path d="M324.5,224.0 C324.7,225.0 325.5,227.9 325.8,230.0 C326.1,232.1 327.2,233.7 326.5,236.4 C325.8,239.1 323.0,242.9 321.5,246.4 C320.0,249.9 318.3,254.4 317.7,257.7 C317.1,261.0 317.7,263.3 318.0,266.0 C318.3,268.7 318.8,271.7 319.5,274.0 C320.2,276.3 321.6,277.8 322.3,280.0 C323.0,282.2 323.9,284.8 323.6,287.5 C323.3,290.2 321.2,293.4 320.4,296.3 C319.6,299.2 319.0,302.2 318.7,305.0 C318.4,307.8 318.7,311.7 318.7,313.0" fill="none" stroke="#82b658" stroke-width="3.0" stroke-linecap="round"/><path d="M272.6,212.3 C273.0,211.6 282.6,210.9 287.6,210.9 C292.6,210.9 297.9,211.3 302.7,212.6 C307.5,213.9 313.0,216.6 316.5,218.6 C320.0,220.6 324.1,222.9 323.5,224.5 C322.9,226.1 315.9,228.1 312.7,228.3 C309.4,228.5 306.7,227.0 304.0,225.7 C301.3,224.4 299.5,222.5 296.4,220.7 C293.2,218.9 289.1,216.5 285.1,215.1 C281.1,213.7 272.2,213.0 272.6,212.3Z" fill="#68a63b" stroke="#5f9a36" stroke-width="0.9" stroke-linejoin="round"/><path d="M371.7,206.9 C370.2,206.6 361.0,211.2 356.6,212.6 C352.2,214.0 348.9,214.6 345.3,215.1 C341.8,215.6 338.2,215.1 335.3,215.7 C332.4,216.3 329.8,217.4 327.8,218.9 C325.8,220.4 322.9,223.2 323.5,224.5 C324.1,225.8 328.1,226.8 331.5,227.0 C334.9,227.2 339.9,226.6 344.1,225.7 C348.3,224.8 353.1,223.3 356.6,221.4 C360.2,219.5 362.9,216.9 365.4,214.5 C367.9,212.1 373.2,207.2 371.7,206.9Z" fill="#68a63b" stroke="#5f9a36" stroke-width="0.9" stroke-linejoin="round"/><path d="M246.8,252.6 C248.1,251.9 256.7,253.2 262.5,254.0 C268.3,254.8 276.2,257.5 281.4,257.7 C286.6,257.9 290.1,255.3 293.9,255.2 C297.6,255.1 300.8,255.6 303.9,257.1 C307.0,258.6 310.5,261.9 312.7,264.0 C314.9,266.1 317.6,267.8 317.0,269.5 C316.4,271.2 312.4,272.8 309.0,274.0 C305.6,275.2 301.0,276.6 296.4,276.6 C291.8,276.6 286.6,275.7 281.4,274.0 C276.2,272.3 269.4,269.1 265.0,266.5 C260.6,263.9 258.0,260.7 255.0,258.4 C252.0,256.1 245.6,253.3 246.8,252.6Z" fill="#68a63b" stroke="#5f9a36" stroke-width="0.9" stroke-linejoin="round"/><path d="M385.5,251.5 C384.5,250.3 374.6,248.9 369.2,248.3 C363.8,247.7 358.1,247.2 352.9,247.7 C347.7,248.2 342.4,249.8 337.8,251.5 C333.2,253.2 328.5,255.5 325.3,257.7 C322.1,259.9 318.5,262.4 318.5,264.5 C318.5,266.6 322.1,269.1 325.3,270.3 C328.5,271.5 333.6,272.1 337.8,271.5 C342.0,270.9 346.2,268.4 350.4,266.5 C354.6,264.6 358.7,262.1 362.9,260.2 C367.1,258.3 371.6,256.6 375.4,255.2 C379.2,253.8 386.5,252.7 385.5,251.5Z" fill="#68a63b" stroke="#5f9a36" stroke-width="0.9" stroke-linejoin="round"/></g>
<g transform="translate(464.4,0)"><path d="M324.5,224.0 C324.7,225.0 325.5,227.9 325.8,230.0 C326.1,232.1 327.2,233.7 326.5,236.4 C325.8,239.1 323.0,242.9 321.5,246.4 C320.0,249.9 318.3,254.4 317.7,257.7 C317.1,261.0 317.7,263.3 318.0,266.0 C318.3,268.7 318.8,271.7 319.5,274.0 C320.2,276.3 321.6,277.8 322.3,280.0 C323.0,282.2 323.9,284.8 323.6,287.5 C323.3,290.2 321.2,293.4 320.4,296.3 C319.6,299.2 319.0,302.2 318.7,305.0 C318.4,307.8 318.7,311.7 318.7,313.0" fill="none" stroke="#82b658" stroke-width="3.0" stroke-linecap="round"/><path d="M272.6,212.3 C273.0,211.6 282.6,210.9 287.6,210.9 C292.6,210.9 297.9,211.3 302.7,212.6 C307.5,213.9 313.0,216.6 316.5,218.6 C320.0,220.6 324.1,222.9 323.5,224.5 C322.9,226.1 315.9,228.1 312.7,228.3 C309.4,228.5 306.7,227.0 304.0,225.7 C301.3,224.4 299.5,222.5 296.4,220.7 C293.2,218.9 289.1,216.5 285.1,215.1 C281.1,213.7 272.2,213.0 272.6,212.3Z" fill="#68a63b" stroke="#5f9a36" stroke-width="0.9" stroke-linejoin="round"/><path d="M371.7,206.9 C370.2,206.6 361.0,211.2 356.6,212.6 C352.2,214.0 348.9,214.6 345.3,215.1 C341.8,215.6 338.2,215.1 335.3,215.7 C332.4,216.3 329.8,217.4 327.8,218.9 C325.8,220.4 322.9,223.2 323.5,224.5 C324.1,225.8 328.1,226.8 331.5,227.0 C334.9,227.2 339.9,226.6 344.1,225.7 C348.3,224.8 353.1,223.3 356.6,221.4 C360.2,219.5 362.9,216.9 365.4,214.5 C367.9,212.1 373.2,207.2 371.7,206.9Z" fill="#68a63b" stroke="#5f9a36" stroke-width="0.9" stroke-linejoin="round"/><path d="M246.8,252.6 C248.1,251.9 256.7,253.2 262.5,254.0 C268.3,254.8 276.2,257.5 281.4,257.7 C286.6,257.9 290.1,255.3 293.9,255.2 C297.6,255.1 300.8,255.6 303.9,257.1 C307.0,258.6 310.5,261.9 312.7,264.0 C314.9,266.1 317.6,267.8 317.0,269.5 C316.4,271.2 312.4,272.8 309.0,274.0 C305.6,275.2 301.0,276.6 296.4,276.6 C291.8,276.6 286.6,275.7 281.4,274.0 C276.2,272.3 269.4,269.1 265.0,266.5 C260.6,263.9 258.0,260.7 255.0,258.4 C252.0,256.1 245.6,253.3 246.8,252.6Z" fill="#68a63b" stroke="#5f9a36" stroke-width="0.9" stroke-linejoin="round"/><path d="M385.5,251.5 C384.5,250.3 374.6,248.9 369.2,248.3 C363.8,247.7 358.1,247.2 352.9,247.7 C347.7,248.2 342.4,249.8 337.8,251.5 C333.2,253.2 328.5,255.5 325.3,257.7 C322.1,259.9 318.5,262.4 318.5,264.5 C318.5,266.6 322.1,269.1 325.3,270.3 C328.5,271.5 333.6,272.1 337.8,271.5 C342.0,270.9 346.2,268.4 350.4,266.5 C354.6,264.6 358.7,262.1 362.9,260.2 C367.1,258.3 371.6,256.6 375.4,255.2 C379.2,253.8 386.5,252.7 385.5,251.5Z" fill="#68a63b" stroke="#5f9a36" stroke-width="0.9" stroke-linejoin="round"/></g>
<ellipse cx="318.9" cy="314.9" rx="5.0" ry="2.2" fill="#cfd8c6" stroke="#000" stroke-width="2.6"/>
<ellipse cx="470.1" cy="314.9" rx="5.0" ry="2.2" fill="#cfd8c6" stroke="#000" stroke-width="2.6"/>
<ellipse cx="624.6" cy="314.9" rx="5.0" ry="2.2" fill="#cfd8c6" stroke="#000" stroke-width="2.6"/>
<ellipse cx="783.1" cy="314.9" rx="5.0" ry="2.2" fill="#cfd8c6" stroke="#000" stroke-width="2.6"/>
<path d="M52.5,463.0 C53.1,465.0 54.2,470.1 56.3,475.0 C58.4,479.9 60.6,485.6 65.0,492.7 C69.4,499.8 76.8,510.8 82.6,517.7 C88.4,524.6 94.6,530.2 100.0,534.0 C105.4,537.8 110.0,539.0 115.0,540.5 C120.0,542.0 124.2,542.9 130.0,543.3 C135.8,543.7 144.5,543.7 150.0,542.8 C155.5,541.9 158.8,540.1 163.0,538.0 C167.2,535.9 171.0,532.8 175.0,530.0 C179.0,527.2 183.2,524.3 187.0,521.0 C190.8,517.7 195.0,514.0 198.0,510.0 C201.0,506.0 203.0,501.6 205.0,497.0 C207.0,492.4 208.6,488.3 210.0,482.6 C211.4,476.9 212.9,468.9 213.5,462.6 C214.1,456.3 213.4,451.3 213.3,445.0 C213.2,438.7 213.3,432.5 213.0,425.0 C212.7,417.5 211.9,407.5 211.2,400.0 C210.5,392.5 209.2,386.7 208.6,380.0 C208.0,373.3 207.2,366.9 207.5,360.0 C207.8,353.1 209.3,344.7 210.4,338.3 C211.5,331.9 212.7,326.0 214.3,321.9 C215.9,317.8 217.8,315.7 220.0,313.6 C222.2,311.5 224.7,310.6 227.8,309.4 C230.9,308.2 236.6,307.0 238.4,306.5" fill="none" stroke="#000" stroke-width="3.4" stroke-linecap="round" stroke-linejoin="round"/>
<path d="M227.8,309.4 C229.6,308.9 234.9,307.2 238.4,306.5 C241.9,305.8 245.0,305.6 249.0,305.4 C253.0,305.2 258.7,305.2 262.6,305.3 C266.5,305.4 269.0,305.8 272.2,306.1 C275.4,306.5 280.4,307.2 282.0,307.4" fill="none" stroke="#000" stroke-width="2.4" stroke-linecap="round" stroke-linejoin="round"/>
<rect x="20.5" y="392.4" width="57.6" height="78.8" rx="7" ry="7" fill="#fff" stroke="#1a1a1a" stroke-width="1.8"/>
<rect x="35" y="435.6" width="30.6" height="22.4" rx="11" ry="10" fill="#fff" stroke="#555" stroke-width="1.1"/>
<rect x="41.3" y="441" width="2.2" height="5.6" rx="1" fill="#555"/>
<rect x="55.8" y="441" width="2.2" height="5.6" rx="1" fill="#555"/>
<rect x="33.6" y="400.4" width="34.3" height="27.2" rx="5" ry="5" fill="#000"/>
<rect x="46.6" y="386" width="8.6" height="16" fill="#000"/>
<path d="M50.8,427.5 C50.8,429.6 50.7,435.9 50.6,440.0 C50.5,444.1 50.0,448.2 50.3,452.0 C50.6,455.8 51.5,459.2 52.5,463.0 C53.5,466.8 55.7,473.0 56.3,475.0" fill="none" stroke="#000" stroke-width="2.8" stroke-linecap="round"/>
<path d="M52.5,463.0 C53.1,465.0 54.2,470.1 56.3,475.0 C58.4,479.9 60.6,485.6 65.0,492.7 C69.4,499.8 76.8,510.8 82.6,517.7 C88.4,524.6 97.1,531.3 100.0,534.0" fill="none" stroke="#000" stroke-width="3.4" stroke-linecap="round"/>
<ellipse cx="51.1" cy="370.6" rx="22.2" ry="16.2" fill="#fff" stroke="#111" stroke-width="2.5"/>
<line x1="44" y1="365.6" x2="53" y2="371.8" stroke="#000" stroke-width="3.6" stroke-linecap="round"/>
<path d="M49,372.3 L54.5,367.3 L57,374.6 Z" fill="#000" stroke="#000" stroke-width="1" stroke-linejoin="round"/>
<line x1="30.5" y1="370.2" x2="35.0" y2="370.2" stroke="#777" stroke-width="0.9"/>
<line x1="67.5" y1="370.2" x2="72.0" y2="370.2" stroke="#777" stroke-width="0.9"/>
<line x1="51.4" y1="355.5" x2="51.4" y2="358.0" stroke="#777" stroke-width="0.9"/>
<line x1="51.4" y1="382.0" x2="51.4" y2="384.5" stroke="#777" stroke-width="0.9"/>
<line x1="51.8" y1="305" x2="51.8" y2="334" stroke="#000" stroke-width="3.4"/>
<path d="M38.7,332.7 L64.8,332.7 L51.8,341.6 Z" fill="#000"/>
<line x1="552.3" y1="202" x2="552.3" y2="329" stroke="#000" stroke-width="3.6"/>
<path d="M539.6,327.3 L565,327.3 L552.3,336.4 Z" fill="#000"/>
<line x1="895" y1="400.6" x2="974.5" y2="400.6" stroke="#000" stroke-width="2.3"/>
<path d="M896.6,390.6 L896.6,410.6 L885.3,400.6 Z" fill="#000"/>
</g>
<g id="labels" filter="url(#softT)">
<text id="t1" x="28.25" y="297.4" font-size="26.0" textLength="81.75" lengthAdjust="spacingAndGlyphs">Timer</text>
<text id="t2" x="515.20" y="193.9" font-size="26.0" textLength="168.82" lengthAdjust="spacingAndGlyphs">Mist Nozzle</text>
<text id="t3" x="982.71" y="408.4" font-size="26.0" textLength="138.54" lengthAdjust="spacingAndGlyphs">Reservoir</text>
<text id="t4" x="584.25" y="504.7" font-size="26.0" textLength="228.75" lengthAdjust="spacingAndGlyphs">Water/Nutrients</text>
<text id="t5" x="389.96" y="503.6" font-size="25.5" textLength="112.54" lengthAdjust="spacingAndGlyphs">Nutrient</text>
<text id="t6" x="404.16" y="528.6" font-size="25.5" textLength="85.13" lengthAdjust="spacingAndGlyphs">Pump</text>
</g>
</svg>
</body>
</html>
